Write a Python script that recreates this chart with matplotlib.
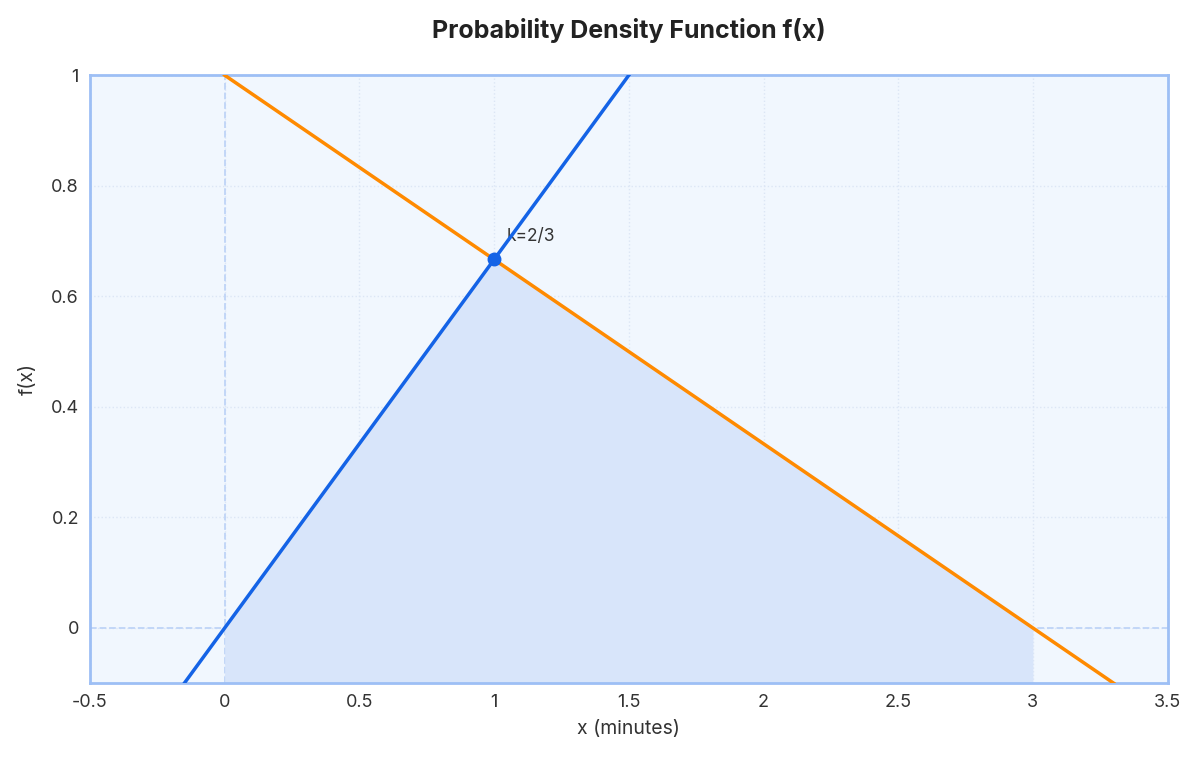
import matplotlib
matplotlib.use("Agg")
import matplotlib.pyplot as plt

plt.rcParams["font.family"] = ["Inter", "DejaVu Sans"]

# line endpoints
blue_x = [-0.15, 1.5]
blue_y = [-0.1, 1.0]
orange_x = [0.0, 3.3]
orange_y = [1.0, -0.1]

# shaded density region
fill_x = [0.0, 1.0, 3.0]
fill_y = [0.0, 2 / 3, 0.0]

point_x = 1.0
point_y = 2 / 3
point_label = "k=2/3"

x_ticks = [-0.5, 0, 0.5, 1, 1.5, 2, 2.5, 3, 3.5]
x_tick_labels = ["-0.5", "0", "0.5", "1", "1.5", "2", "2.5", "3", "3.5"]
y_ticks = [0, 0.2, 0.4, 0.6, 0.8, 1]
y_tick_labels = ["0", "0.2", "0.4", "0.6", "0.8", "1"]


def main():
    fig = plt.figure(figsize=(12, 7.6), dpi=100)
    ax = fig.add_axes([0.075, 0.101, 0.898, 0.8])
    ax.set_facecolor("#f1f7fe")

    ax.set_xlim(-0.5, 3.5)
    ax.set_ylim(-0.1, 1.0)

    ax.grid(True, color="#dce6f5", linestyle=":", linewidth=1)
    ax.set_axisbelow(True)

    ax.axvline(0, color="#bfd4f7", linestyle="--", linewidth=1.3, zorder=1)
    ax.axhline(0, color="#bfd4f7", linestyle="--", linewidth=1.3, zorder=1)

    ax.fill_between(fill_x, fill_y, -0.1, color="#d8e5fa", linewidth=0, zorder=2)

    ax.plot(orange_x, orange_y, color="#ff8a00", linewidth=2.5, zorder=3)
    ax.plot(blue_x, blue_y, color="#1463e6", linewidth=2.5, zorder=4)
    ax.plot([point_x], [point_y], "o", color="#1463e6", markersize=9, zorder=5)
    ax.annotate(point_label, (point_x, point_y), xytext=(9, 13),
                textcoords="offset points", fontsize=12.5, color="#333333")

    for spine in ax.spines.values():
        spine.set_color("#9dbff5")
        spine.set_linewidth(2)

    ax.set_xticks(x_ticks)
    ax.set_xticklabels(x_tick_labels)
    ax.set_yticks(y_ticks)
    ax.set_yticklabels(y_tick_labels)
    ax.tick_params(length=0, labelsize=13, labelcolor="#333333", pad=8)

    ax.set_xlabel("x (minutes)", fontsize=14, color="#333333", labelpad=6)
    ax.set_ylabel("f(x)", fontsize=14, color="#333333", labelpad=10)
    ax.set_title("Probability Density Function f(x)", fontsize=18,
                 fontweight="bold", color="#222222", pad=27)

    fig.savefig("out.png", dpi=100)
    plt.close(fig)


if __name__ == "__main__":
    main()
